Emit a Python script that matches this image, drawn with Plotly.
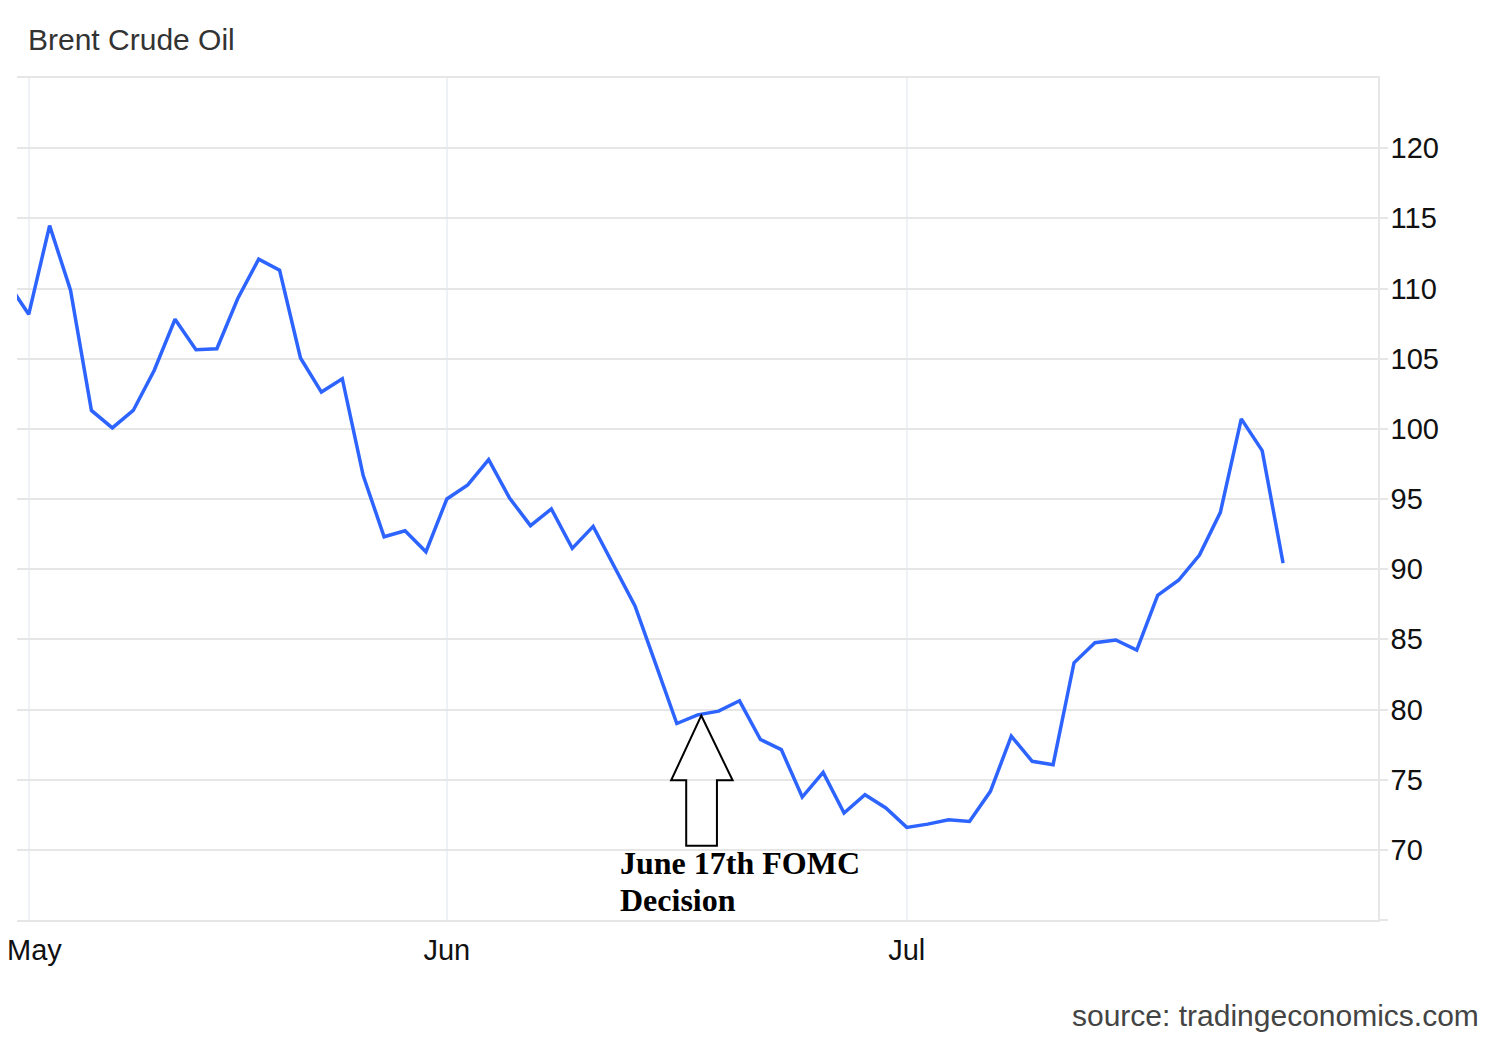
import plotly.graph_objects as go

# Brent crude, daily closes, 62 trading sessions (end of April through late July)
price = [110.4, 108.16, 114.48, 109.88, 101.31, 100.07, 101.31, 104.16, 107.81, 105.64,
         105.71, 109.29, 112.09, 111.31, 105.05, 102.62, 103.57, 96.67, 92.31, 92.74,
         91.24, 95.0, 96.0, 97.81, 95.07, 93.1, 94.29, 91.48, 93.05, 90.24,
         87.38, 83.2, 79.0, 79.62, 79.88, 80.62, 77.86, 77.14, 73.76, 75.52,
         72.62, 73.93, 72.98, 71.6, 71.83, 72.14, 72.02, 74.17, 78.1, 76.31,
         76.07, 83.33, 84.76, 84.95, 84.24, 88.14, 89.21, 91.0, 94.05, 100.71,
         98.45, 90.43]
session = list(range(len(price)))

month_pos = [1, 21, 43]
month_names = ["May", "Jun", "Jul"]
price_ticks = [65, 70, 75, 80, 85, 90, 95, 100, 105, 110, 115, 120]
price_labels = [""] + [str(v) for v in price_ticks[1:]]

fomc_session = 33.17
fomc_price = 79.57

fig = go.Figure()
fig.add_trace(go.Scatter(x=session, y=price, mode="lines",
                         line=dict(color="#2d64ff", width=3.5),
                         hoverinfo="y", showlegend=False))

# hollow block arrow pointing at the FOMC day
hx, hy = fomc_session, fomc_price
arrow = (f"M {hx} {hy} L {hx+1.5} {hy-4.62} L {hx+0.75} {hy-4.62} "
         f"L {hx+0.75} {hy-9.28} L {hx-0.72} {hy-9.28} L {hx-0.72} {hy-4.62} "
         f"L {hx-1.44} {hy-4.62} Z")
fig.add_shape(type="path", path=arrow, xref="x", yref="y",
              line=dict(color="black", width=2), fillcolor="rgba(0,0,0,0)")

serif = dict(family="Liberation Serif, Times New Roman, serif", size=32,
             color="black", weight="bold")
fig.add_annotation(x=29.2, y=69.05, xref="x", yref="y", text="June 17th FOMC",
                   showarrow=False, xanchor="left", yanchor="middle", font=serif)
fig.add_annotation(x=29.2, y=66.4, xref="x", yref="y", text="Decision",
                   showarrow=False, xanchor="left", yanchor="middle", font=serif)

# first month label hangs over the left edge, so it is drawn left-aligned instead
fig.add_annotation(x=-9 / 1361, y=-0.0356, xref="paper", yref="paper", xshift=-3,
                   text=month_names[0], showarrow=False, xanchor="left", yanchor="middle",
                   font=dict(family="Liberation Sans, Arial", size=29, color="#111"))

fig.add_annotation(x=1.0757, y=-0.114, xref="paper", yref="paper",
                   text="source: tradingeconomics.com", showarrow=False,
                   xanchor="right", yanchor="middle",
                   font=dict(family="Liberation Sans, Arial", size=30, color="#444"))

# page body adds 8px around the figure, so the figure is a little smaller
fig.update_layout(
    width=1484, height=1024,
    margin=dict(l=9, r=114, t=70, b=112),
    paper_bgcolor="white", plot_bgcolor="white",
    font=dict(family="Liberation Sans, Arial", size=29, color="#111"),
    title=dict(text="Brent Crude Oil", x=20 / 1484, xanchor="left", xref="container",
               y=1 - 31 / 1024, yanchor="middle", yref="container",
               font=dict(size=30, color="#333")),
    xaxis=dict(range=[0.44, 65.54], tickmode="array", tickvals=month_pos,
               ticktext=[""] + month_names[1:], showgrid=True, gridcolor="#eef1f5",
               gridwidth=1.5, zeroline=False, showline=True, mirror=True,
               linecolor="#e6e6e6", linewidth=1.5, ticks="", fixedrange=True,
               automargin=False, ticklabelstandoff=3),
    yaxis=dict(range=[65, 125], side="right", tickmode="array", tickvals=price_ticks,
               ticktext=price_labels, showgrid=True, gridcolor="#e6e6e6", gridwidth=1.5,
               zeroline=False, showline=True, linecolor="#e6e6e6", linewidth=1.5,
               ticks="outside", ticklen=8, tickcolor="#e6e6e6", tickwidth=1.5,
               fixedrange=True, automargin=False, ticklabelstandoff=-3),
)

fig.write_html("out.html")
